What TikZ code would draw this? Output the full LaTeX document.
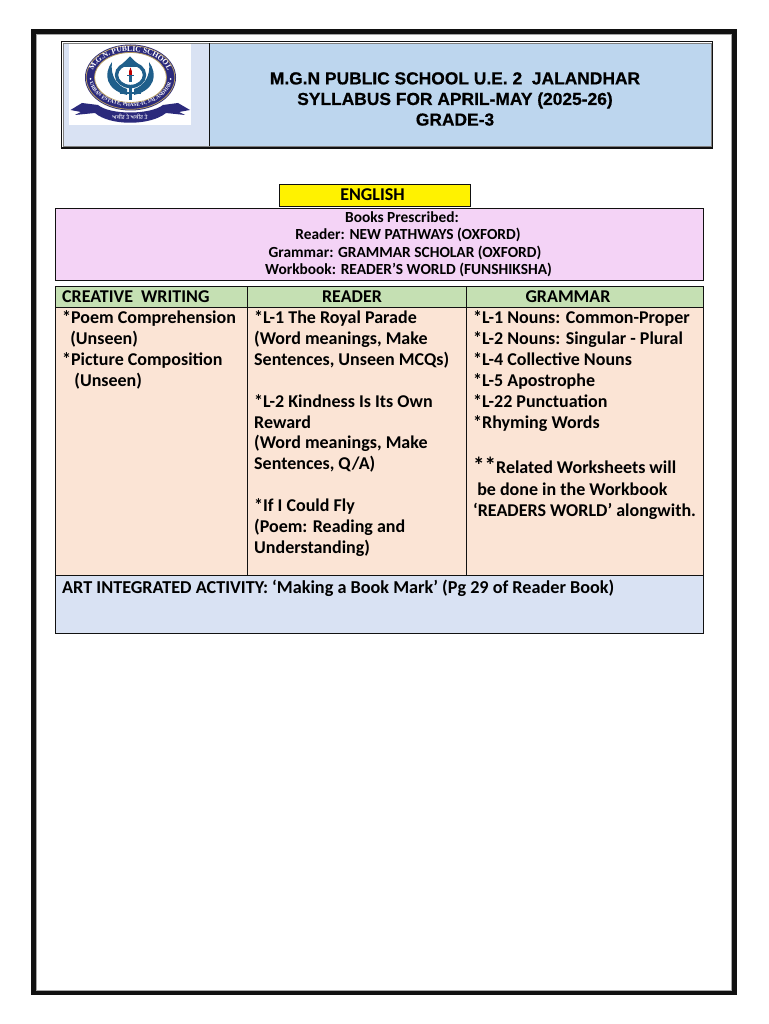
\documentclass[tikz,border=0pt]{standalone}
\usepackage{fontspec}
\setmainfont{Carlito}
\newfontfamily\titlefont[BoldFont={Liberation Sans Bold},BoldFeatures={FakeBold=0.6}]{Liberation Sans}
\newfontfamily\logofont{Liberation Serif}
\newfontfamily\gurm[Script=Gurmukhi]{Hind Jalandhar}
\usetikzlibrary{decorations.text}
\definecolor{lineblack}{HTML}{111111}
\definecolor{headleft}{HTML}{D9E2F3}
\definecolor{headright}{HTML}{BDD6EE}
\definecolor{pinkbox}{HTML}{F4D3F6}
\definecolor{greenrow}{HTML}{C5E0B3}
\definecolor{peachrow}{HTML}{FBE4D5}
\definecolor{navy}{HTML}{2B2A7C}
\definecolor{teal1}{HTML}{1F5F8B}
\definecolor{goldring}{HTML}{B39A5E}
\tikzset{
  cell/.style={draw=lineblack,line width=0.9pt,inner sep=0pt,anchor=north west},
  col/.style={anchor=north west,inner sep=0pt,align=left,font=\fontsize{18}{20.9}\selectfont\bfseries},
  head/.style={inner sep=0pt,font=\fontsize{18}{20}\selectfont\bfseries},
  books/.style={inner sep=0pt,font=\fontsize{15.4}{17.8}\selectfont\bfseries},
  titletext/.style={inner sep=0pt,align=center,font=\fontsize{17.4}{20.6}\selectfont\titlefont\bfseries},
}
\begin{document}
\begin{tikzpicture}[x=1pt,y=-1pt]
\useasboundingbox (0,0) rectangle (768,1024);
\fill[white] (0,0) rectangle (768,1024);
% page border
\draw[lineblack,line width=5pt] (33.5,31.5) rectangle (734.5,992.5);
\draw[gray!70,line width=0.8pt] (36.4,34.4) rectangle (731.6,990);
% header
\fill[headleft] (63,43) rectangle (209,146);
\fill[headright] (209,43) rectangle (711,146);
\draw[lineblack,line width=1.2pt] (61.5,41.5) rectangle (712.5,148);
\draw[gray,line width=0.8pt] (63,43) rectangle (711,146.5);
\draw[lineblack,line width=0.9pt] (209.5,43) -- (209.5,146);
\fill[white] (69,44) rectangle (191,125);
% logo
\fill[navy] (130.5,77.5) ellipse [x radius=45.5,y radius=33];
\draw[goldring,line width=0.8pt] (130.5,77.5) ellipse [x radius=44.3,y radius=31.8];
\fill[white] (130.5,77.5) ellipse [x radius=36,y radius=25];
\draw[goldring,line width=0.8pt] (130.5,77.5) ellipse [x radius=36,y radius=25];
\path[postaction={decorate,decoration={text along path,text align=center,
  text={|\logofont\fontsize{7.6}{8}\selectfont\bfseries\color{white}|M.G.N. PUBLIC SCHOOL}}}]
  (92,77.5) arc[start angle=180,end angle=360,x radius=38.5,y radius=26.5];
\path[postaction={decorate,decoration={text along path,text align=center,
  text={|\logofont\fontsize{5.2}{6}\selectfont\bfseries\color{white}|URBAN ESTATE, PHASE-II, JALANDHAR}}}]
  (89.6,82.5) arc[start angle=170,end angle=10,x radius=41.5,y radius=29];
\fill[white] (90.5,79) circle (1);
\fill[white] (170.5,79) circle (1);
% khanda
\fill[teal1] (130,56.5) -- (141,67) -- (119,67) -- cycle;
\fill[teal1] (112,62) .. controls (103,74) and (106,90) .. (127,95)
  -- (127,89) .. controls (117,86) and (110,76) .. (112,62) -- cycle;
\fill[teal1] (149,62) .. controls (158,74) and (155,90) .. (134,95)
  -- (134,89) .. controls (144,86) and (151,76) .. (149,62) -- cycle;
\draw[teal1,line width=3.4pt] (130.5,75) ellipse [x radius=14,y radius=11.5];
\fill[teal1] (129,86) rectangle (132,100);
\fill[teal1] (120,92) rectangle (141,94.5);
\fill[red!75!black] (129.2,71) -- (130.5,67.5) -- (131.8,71) -- (131.8,75) -- (129.2,75) -- cycle;
\fill[teal1] (127,75) rectangle (134,76.5);
\fill[teal1] (129.4,76.5) rectangle (131.6,82);
% ribbon
\fill[navy] (70.5,110) -- (82,103) -- (98,105) .. controls (110,115) and (150,115) .. (163,105) -- (178,103) -- (190,110) -- (179,112) -- (185,115)
  -- (166,113) .. controls (150,126) and (110,126) .. (95,113) -- (75,115) -- (81,112) -- cycle;
\node[inner sep=0pt,text=white,font=\gurm\fontsize{6}{6}\selectfont] (motto) at (130,116.5) {ਅਕੀਰ ਤੇ ਅਕੀਰ ਤੇ};
% title
\node[titletext] (title) at (455,99) {M.G.N PUBLIC SCHOOL U.E. 2\ \ JALANDHAR\\SYLLABUS FOR APRIL-MAY (2025-26)\\GRADE-3};
% English
\node[cell,fill=yellow,minimum width=191pt,minimum height=22pt] (english) at (279,184) {};
\node[head] (englishtext) at (372.5,194.5) {ENGLISH};
% books
\node[cell,fill=pinkbox,minimum width=648pt,minimum height=72pt] (booksbox) at (55,208) {};
\node[books] (book1) at (402,217) {Books Prescribed:};
\node[books] (book2) at (408,234.5) {Reader: NEW PATHWAYS (OXFORD)};
\node[books] (book3) at (405,252.5) {Grammar: GRAMMAR SCHOLAR (OXFORD)};
\node[books] (book4) at (408.5,270) {Workbook: READER’S WORLD (FUNSHIKSHA)};
% table
\node[cell,fill=greenrow,minimum width=192pt,minimum height=21pt] (h1) at (55,286) {};
\node[cell,fill=greenrow,minimum width=219pt,minimum height=21pt] (h2) at (247,286) {};
\node[cell,fill=greenrow,minimum width=237pt,minimum height=21pt] (h3) at (466,286) {};
\node[cell,fill=peachrow,minimum width=192pt,minimum height=268pt] (c1) at (55,307) {};
\node[cell,fill=peachrow,minimum width=219pt,minimum height=268pt] (c2) at (247,307) {};
\node[cell,fill=peachrow,minimum width=237pt,minimum height=268pt] (c3) at (466,307) {};
\node[cell,fill=headleft,minimum width=648pt,minimum height=58pt] (art) at (55,575) {};
\node[head,anchor=west] (t1) at (62,296.5) {CREATIVE\ \ WRITING};
\node[head] (t2) at (352,296.5) {READER};
\node[head] (t3) at (568,296.5) {GRAMMAR};
\node[col] (b1) at (62,310.5) {*Poem Comprehension\\\ \ (Unseen)\\*Picture Composition\\\ \ \ (Unseen)};
\node[col] (b2) at (254,310.5) {*L-1 The Royal Parade\\(Word meanings, Make\\Sentences, Unseen MCQs)\\[20.9pt]*L-2 Kindness Is Its Own\\Reward\\(Word meanings, Make\\Sentences, Q/A)\\[20.9pt]*If I Could Fly\\(Poem: Reading and\\Understanding)};
\node[col] (b3) at (473,310.5) {*L-1 Nouns: Common-Proper\\*L-2 Nouns: Singular - Plural\\*L-4 Collective Nouns\\*L-5 Apostrophe\\*L-22 Punctuation\\*Rhyming Words\\[25pt]{\fontsize{23}{21}\selectfont **}Related Worksheets will\\[0.6pt]\ be done in the Workbook\\[0.2pt]‘READERS WORLD’ alongwith.};
\node[col,font=\fontsize{18.2}{20.9}\selectfont\bfseries] (b4) at (62,579.5) {ART INTEGRATED ACTIVITY: ‘Making a Book Mark’ (Pg 29 of Reader Book)};
\end{tikzpicture}
\end{document}
